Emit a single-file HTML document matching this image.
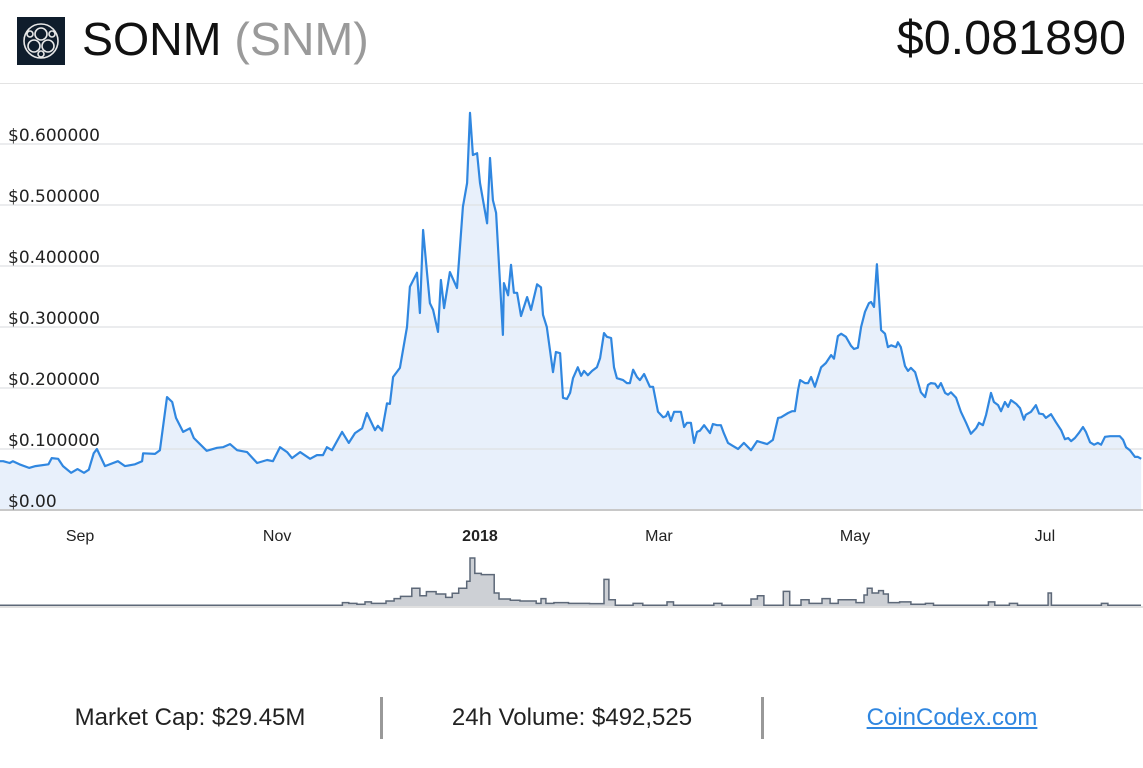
<!DOCTYPE html>
<html><head><meta charset="utf-8"><style>
html,body{margin:0;padding:0;background:#fff;width:1143px;height:768px;overflow:hidden;font-family:"Liberation Sans",sans-serif}
#hdr{position:absolute;left:0;top:0;width:1143px;height:83px;border-bottom:1px solid #e3e3e3}
#logo{position:absolute;left:17px;top:17px;width:48px;height:48px;background:#0f1d2c}
#title{position:absolute;left:82px;top:12px;font-size:46.5px;color:#111;white-space:nowrap}
#title span{color:#9a9a9a}
#price{position:absolute;right:17px;top:10px;font-size:48.5px;color:#111}
#foot{position:absolute;left:0;top:695px;width:1143px;height:45px;font-size:24px;color:#222}
.fi{position:absolute;top:9px;white-space:nowrap;transform:translateX(-50%)}
.sep{position:absolute;top:2px;width:3px;height:42px;background:#999}
a{color:#2f86e0}
</style></head><body>
<div id="hdr">
 <div id="logo">
  <svg width="48" height="48" viewBox="0 0 48 48"><g fill="none" stroke="#e8e8e8" stroke-width="1.6"><circle cx="24" cy="24" r="17"/><circle cx="24" cy="17" r="6"/><circle cx="17" cy="29" r="6"/><circle cx="31" cy="29" r="6"/><circle cx="13" cy="17" r="3"/><circle cx="35" cy="17" r="3"/><circle cx="24" cy="37" r="3"/></g></svg>
 </div>
 <div id="title">SONM <span>(SNM)</span></div>
 <div id="price">$0.081890</div>
</div>
<svg id="chart" width="1143" height="640" style="position:absolute;left:0;top:0"></svg>
<div id="foot">
 <div class="fi" style="left:190px">Market Cap: $29.45M</div>
 <div class="sep" style="left:380px"></div>
 <div class="fi" style="left:572px">24h Volume: $492,525</div>
 <div class="sep" style="left:761px"></div>
 <div class="fi" style="left:952px"><a href="#">CoinCodex.com</a></div>
</div>
<script>
const priceDays=[0,1,3,4,6,9,11,15,16,18,19.5,22,24,26,27.5,29,30,32.5,36.5,38.7,41.8,44,44.3,48,49.5,51.7,53.3,54.5,56.7,58.8,60,64,67.2,69,71.2,73.4,76.5,79.6,82.7,84.5,86.7,88.9,90.4,92.9,96,98.1,100,101.2,102.8,105.9,108,109.9,112.1,113.6,116.1,117,118.3,119.8,120.7,121.7,123.8,126,126.9,129.1,130,131,132.2,133.1,134.1,135.6,136.5,137.5,139.3,141.5,143.3,144.6,145.5,146.4,147.7,148.6,150.8,151.7,152.6,153.6,155.7,156,157.3,158.2,159.1,160.1,161.3,163.2,164.4,166.3,167.5,168.1,169.3,171.2,172.1,173.4,174.3,175.5,176.5,177.4,178.9,179.9,180.8,182,183.3,184.8,185.8,187,187.9,189.2,190.1,191,192.9,194.1,195,196,197.2,198.1,199.4,201.2,202.2,203.7,205.3,206.2,206.8,207.7,208.7,210.8,211.8,212.7,213.9,214.9,215.8,216.7,218,219.8,220.7,222,223.2,224.1,225.4,226.9,228.5,230.3,232.5,234.4,237.5,239.3,240.9,241.8,244,245.2,246.1,247.1,247.7,249.2,250.2,251.1,252.3,254.2,255.7,257.3,258.2,259.4,260.4,261.9,263.5,264.4,265.6,266.6,267.8,269,269.7,270.6,271.5,272.8,274,274.9,275.9,277.4,278,278.9,280.2,281.1,282,283.3,285.1,286.4,287.3,288.2,289.5,290.4,291.3,292.6,293.5,294.4,296,297.5,299.1,300.6,302.2,303.1,304.3,305.3,306.8,307.7,309,309.9,311.1,312.1,313,314.6,315.8,317,317.6,319.2,320.7,321.7,322.9,323.8,325.4,326.9,328.5,329.7,330.7,331.6,332.8,334,335.3,336.2,337.5,338.7,339.9,340.9,342.1,343.7,344.6,346.7,347.7,348.6,349.8,351.4,352.3,353.3];
const prices=[0.080,0.080,0.077,0.080,0.075,0.069,0.072,0.075,0.085,0.084,0.072,0.061,0.067,0.061,0.066,0.093,0.100,0.072,0.080,0.072,0.075,0.080,0.093,0.092,0.098,0.185,0.177,0.151,0.128,0.134,0.118,0.097,0.102,0.103,0.108,0.098,0.095,0.077,0.082,0.080,0.103,0.095,0.085,0.095,0.084,0.090,0.090,0.103,0.098,0.128,0.110,0.126,0.134,0.159,0.131,0.138,0.130,0.175,0.174,0.218,0.233,0.300,0.366,0.389,0.323,0.459,0.389,0.339,0.328,0.292,0.377,0.331,0.390,0.364,0.497,0.536,0.651,0.582,0.585,0.536,0.470,0.577,0.508,0.487,0.287,0.372,0.352,0.402,0.356,0.356,0.318,0.349,0.328,0.370,0.365,0.320,0.300,0.226,0.259,0.257,0.184,0.182,0.192,0.216,0.234,0.220,0.228,0.221,0.228,0.234,0.249,0.290,0.284,0.282,0.234,0.216,0.213,0.208,0.208,0.230,0.218,0.213,0.223,0.202,0.202,0.161,0.152,0.154,0.161,0.146,0.161,0.161,0.136,0.143,0.143,0.110,0.128,0.130,0.139,0.126,0.141,0.139,0.139,0.126,0.110,0.105,0.100,0.110,0.098,0.113,0.108,0.115,
0.151,0.152,0.159,0.162,0.162,0.197,0.213,0.208,0.208,0.218,0.202,0.234,0.241,0.254,0.248,0.285,0.289,0.284,0.269,0.264,0.266,0.300,0.325,0.339,0.341,0.333,0.403,
0.295,0.289,0.267,0.270,0.267,0.275,0.267,0.236,0.228,0.233,0.226,0.193,0.185,0.205,0.208,0.207,0.200,0.208,0.192,0.189,0.193,0.184,0.161,0.143,0.125,0.134,0.143,0.139,0.156,0.192,0.177,0.172,0.162,0.177,0.169,0.180,0.174,0.167,0.148,0.156,0.161,0.172,0.158,0.157,0.151,0.157,0.144,0.131,0.116,0.118,0.113,0.118,0.126,0.136,0.128,0.111,0.107,0.110,0.107,0.120,0.121,0.121,0.121,0.115,0.103,0.098,0.087,0.087,0.084];
const volDays=[0,106,108,110.5,113,115,119.5,122,124,127.5,130,132,135,138,140,142,144.5,145.5,147,149,152,153,154.5,158,161,166,167.5,169,171.5,176,179.5,182.5,187,188.5,190.5,196,199,206.5,208.5,221,223.5,232.5,234.5,236.5,242.5,244.5,248,250.5,254.5,257,259.5,262,265,267.5,268.5,270,272,273.5,275,278.5,282,286.5,289,306,308,312.5,315,324.5,325.5,341,343];
const volumes=[0.3,1.4,1.1,0.7,1.7,1.1,2.1,3.1,4,7.4,4.3,6,5,3.6,5.3,7.4,10.3,20,13.6,13.1,13.1,5.4,2.9,2.4,2.1,1.1,3.1,1.1,1.4,1.1,1.1,1,11.1,2.6,0.3,1.1,0.3,1.7,0.3,1.1,0.3,2.9,4.3,0.3,6.1,0.3,2.6,1.1,3.1,1.1,2.6,2.6,1.4,4.6,7.4,5.4,6.4,5,1.4,1.7,0.7,1.1,0.3,1.7,0.3,1.1,0.3,5.4,0.3,1.1,0.3];
const yTicks=[0,0.1,0.2,0.3,0.4,0.5,0.6];
const yTickLabels=["$0.00","$0.100000","$0.200000","$0.300000","$0.400000","$0.500000","$0.600000"];
const xTickDays=[24.8,85.8,148.6,204,264.7,323.5];
const xTickLabels=["Sep","Nov","2018","Mar","May","Jul"];

const NS="http://www.w3.org/2000/svg";
const svg=document.getElementById('chart');
const xs=d=>d*3.23;
const ys=v=>510-v*610;
const vy=v=>606-v*2.4;
function mk(tag,attrs){const e=document.createElementNS(NS,tag);for(const k in attrs)e.setAttribute(k,attrs[k]);svg.appendChild(e);return e;}
const n=Math.min(priceDays.length,prices.length);
let pts=[];
for(let i=0;i<n;i++)pts.push(xs(priceDays[i]).toFixed(1)+','+ys(prices[i]).toFixed(1));
const area=mk('path',{d:'M'+xs(priceDays[0])+','+ys(0)+' L'+pts.join(' L')+' L'+xs(priceDays[n-1])+','+ys(0)+'Z',fill:'#e8f0fb'});


yTicks.forEach((t,i)=>{
  const l=mk('line',{x1:0,x2:1143,y1:ys(t),y2:ys(t),stroke:i===0?'#c8c8c8':'#dfe1e4','stroke-width':i===0?2:1.3});
  
  
  const tx=mk('text',{x:8,y:ys(t)-3,'font-size':17,fill:'#222','font-family':'DejaVu Sans, sans-serif'});
  tx.textContent=yTickLabels[i];
  
  
});
xTickDays.forEach((d,i)=>{
  const tx=mk('text',{x:xs(d),y:541,'font-size':16,fill:'#222','text-anchor':'middle','font-family':'"Liberation Sans", sans-serif','font-weight':xTickLabels[i]==='2018'?'bold':'normal'});
  tx.textContent=xTickLabels[i];
  
  
});
const line=mk('path',{d:'M'+pts.join(' L'),fill:'none',stroke:'#3087e0','stroke-width':2.2,'stroke-linejoin':'round'});


let vp=[];
volDays.forEach((d,i)=>{const nx=i<volDays.length-1?xs(volDays[i+1]):1141;vp.push(xs(d).toFixed(1)+','+vy(volumes[i]).toFixed(1));vp.push(nx.toFixed(1)+','+vy(volumes[i]).toFixed(1));});
const va=mk('path',{d:'M0,606 L'+vp.join(' L')+' L1141,606Z',fill:'#cdd0d5'});


const vl=mk('path',{d:'M'+vp.join(' L'),fill:'none',stroke:'#5d6878','stroke-width':1.5});


const vb=mk('line',{x1:0,x2:1143,y1:607,y2:607,stroke:'#d5d5d5','stroke-width':1.5});


</script>
</body></html>
